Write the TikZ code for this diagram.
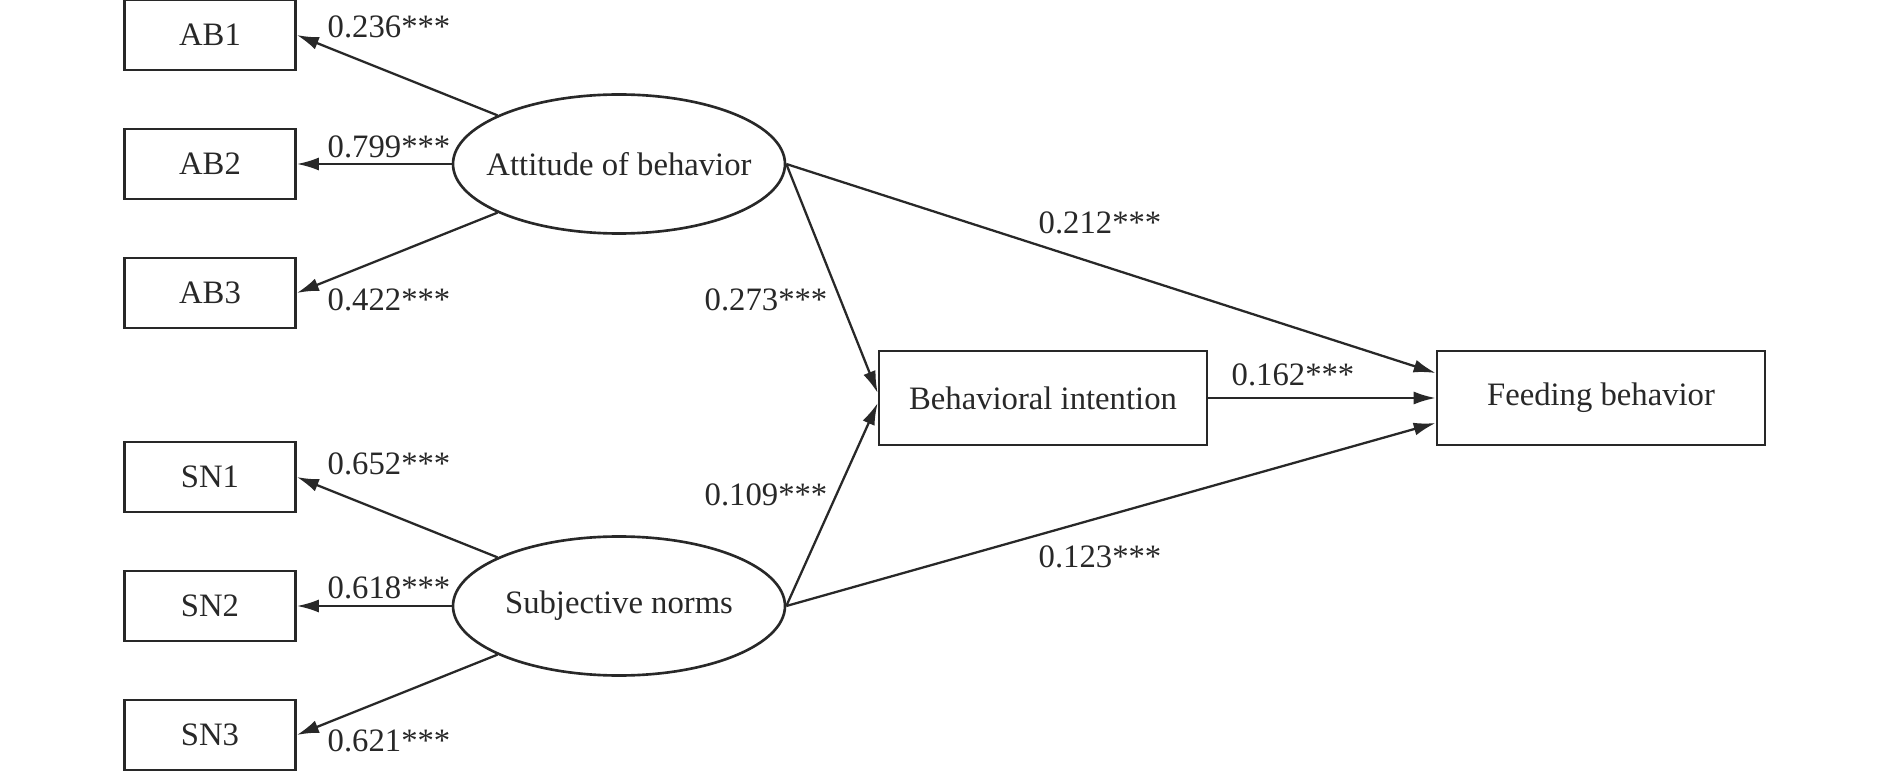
\documentclass[tikz,border=0pt]{standalone}
\usepackage{fontspec}
\setmainfont{Liberation Serif}
\usetikzlibrary{arrows.meta,positioning,shapes.geometric}
\definecolor{figline}{RGB}{40,40,40}
\newcommand{\figfont}{\fontsize{9.3}{11}\selectfont}
\tikzset{
  itembox/.style={draw=figline, line width=0.75pt, fill=white, minimum width=1.71cm, minimum height=0.70cm, inner sep=0pt, font=\figfont, text=figline},
  latentell/.style={ellipse, draw=figline, line width=0.75pt, fill=white, minimum width=3.32cm, minimum height=1.39cm, inner sep=0pt, font=\figfont, text=figline},
  pathbox/.style={draw=figline, line width=0.75pt, fill=white, minimum width=3.28cm, minimum height=0.94cm, inner sep=0pt, font=\figfont, text=figline},
  line/.style={-{Latex[length=2.2mm,width=1.3mm]}, draw=figline, line width=0.65pt},
  coeflabel/.style={font=\figfont, text=figline, inner sep=1pt}
}

\begin{document}
\begin{tikzpicture}[x=1cm,y=1cm]
  \useasboundingbox (0,0) rectangle (18.9,-7.71);

  \node[itembox] (ab1) at (2.10,-0.35) {AB1};
  \node[itembox] (ab2) at (2.10,-1.64) {AB2};
  \node[itembox] (ab3) at (2.10,-2.93) {AB3};
  \node[itembox] (sn1) at (2.10,-4.77) {SN1};
  \node[itembox] (sn2) at (2.10,-6.06) {SN2};
  \node[itembox] (sn3) at (2.10,-7.35) {SN3};

  % text boxes kept narrow so the ellipses keep their size
  \node[latentell] (att) at (6.19,-1.64) {\makebox[0pt]{Attitude of behavior}};
  \node[latentell] (sn) at (6.19,-6.06) {\makebox[0pt]{Subjective norms}};

  \node[pathbox] (bi) at (10.43,-3.98) {Behavioral intention};
  \node[pathbox] (fb) at (16.01,-3.98) {Feeding behavior};

  \draw[line] (att) -- (ab1.east);
  \draw[line] (att) -- (ab2.east);
  \draw[line] (att) -- (ab3.east);
  \draw[line] (sn) -- (sn1.east);
  \draw[line] (sn) -- (sn2.east);
  \draw[line] (sn) -- (sn3.east);
  \draw[line] (att.east) -- ([yshift=0.05cm]bi.west);
  \draw[line] (sn.east) -- ([yshift=-0.05cm]bi.west);
  \draw[line] (att.east) -- ([yshift=0.25cm]fb.west);
  \draw[line] (sn.east) -- ([yshift=-0.25cm]fb.west);
  \draw[line] (bi.east) -- (fb.west);

  \node[coeflabel] (c1) at (3.89,-0.27) {0.236***};
  \node[coeflabel] (c2) at (3.89,-1.47) {0.799***};
  \node[coeflabel] (c3) at (3.89,-3.00) {0.422***};
  \node[coeflabel] (c4) at (3.89,-4.64) {0.652***};
  \node[coeflabel] (c5) at (3.89,-5.88) {0.618***};
  \node[coeflabel] (c6) at (3.89,-7.41) {0.621***};
  \node[coeflabel] (c7) at (7.66,-3.00) {0.273***};
  \node[coeflabel] (c8) at (7.66,-4.95) {0.109***};
  \node[coeflabel] (c9) at (11.00,-2.23) {0.212***};
  \node[coeflabel] (c10) at (12.93,-3.75) {0.162***};
  \node[coeflabel] (c11) at (11.00,-5.57) {0.123***};
\end{tikzpicture}
\end{document}
